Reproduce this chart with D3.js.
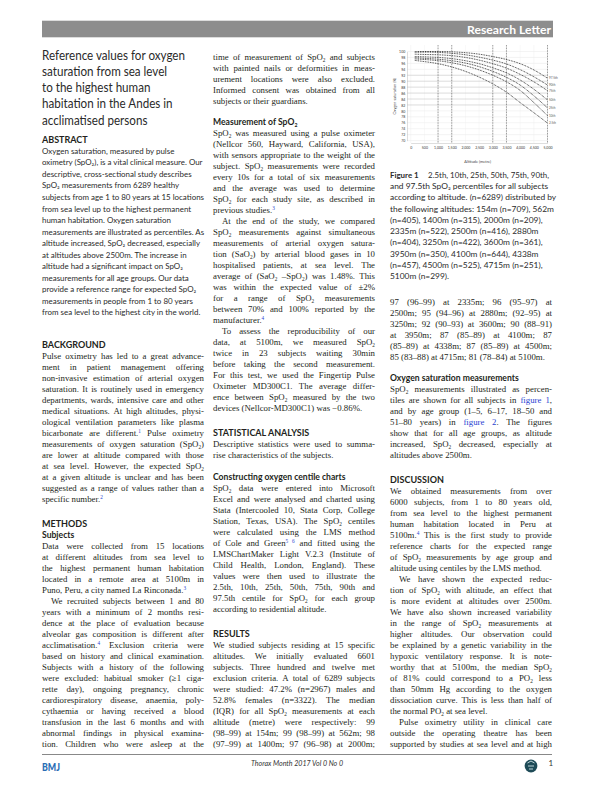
<!DOCTYPE html>
<html>
<head>
<meta charset="utf-8">
<script src="https://cdn.jsdelivr.net/npm/d3@7"></script>
<style>
  html, body { margin: 0; padding: 0; background: #fff; }
  svg { display: block; }
</style>
</head>
<body>
<svg id="page" width="595" height="794"></svg>
<script>
// ---------- chart data ----------
const altitudes = [150, 500, 1000, 1500, 2000, 2500, 3000, 3500, 4000, 4500, 5000];
const centileNames = ["97.5th", "90th", "75th", "50th", "25th", "10th", "2.5th"];
const p975 = [99.9, 100, 100, 99.9, 99.6, 99.1, 98.3, 97.3, 95.9, 93.8, 91.0];
const p90  = [99.8, 99.8, 99.7, 99.4, 98.9, 98.1, 97.1, 95.8, 93.9, 91.5, 88.7];
const p75  = [99.1, 99.0, 98.9, 98.6, 98.0, 97.1, 95.9, 94.4, 92.3, 89.8, 86.8];
const p50  = [98.3, 98.2, 98.0, 97.6, 96.9, 95.9, 94.5, 92.8, 90.4, 87.3, 83.7];
const p25  = [97.9, 97.7, 97.4, 96.9, 96.1, 94.9, 93.3, 91.3, 88.7, 85.1, 81.0];
const p10  = [97.5, 97.3, 96.9, 96.2, 95.2, 93.8, 92.0, 89.8, 86.9, 82.8, 78.4];
const p025 = [97.0, 96.6, 95.9, 94.8, 93.3, 91.4, 89.1, 86.3, 82.8, 79.4, 75.9];
const xTicks = [0, 500, 1000, 1500, 2000, 2500, 3000, 3500, 4000, 4500, 5000];
const yTicks = [70, 72, 74, 76, 78, 80, 82, 84, 86, 88, 90, 92, 94, 96, 98, 100];
const darkVerticals = [1000, 1500, 3000, 3500, 5000];
const shadedRows = [82, 84, 86, 88, 90, 92];

// ---------- page text ----------
const titleLines = [
  "Reference values for oxygen",
  "saturation from sea level",
  "to the highest human",
  "habitation in the Andes in",
  "acclimatised persons"
];

const abstractLines = [
  "Oxygen saturation, measured by pulse",
  "oximetry (SpO_{2}), is a vital clinical measure. Our",
  "descriptive, cross-sectional study describes",
  "SpO_{2} measurements from 6289 healthy",
  "subjects from age 1 to 80 years at 15 locations",
  "from sea level up to the highest permanent",
  "human habitation. Oxygen saturation",
  "measurements are illustrated as percentiles. As",
  "altitude increased, SpO_{2} decreased, especially",
  "at altitudes above 2500m. The increase in",
  "altitude had a significant impact on SpO_{2}",
  "measurements for all age groups. Our data",
  "provide a reference range for expected SpO_{2}",
  "measurements in people from 1 to 80 years",
  "from sea level to the highest city in the world."
];

const leftLines = [
  "# BACKGROUND",
  "Pulse oximetry has led to a great advance-",
  "ment in patient management offering",
  "non-invasive estimation of arterial oxygen",
  "saturation. It is routinely used in emergency",
  "departments, wards, intensive care and other",
  "medical situations. At high altitudes, physi-",
  "ological ventilation parameters like plasma",
  "bicarbonate are different.^{1} Pulse oximetry",
  "measurements of oxygen saturation (SpO_{2})",
  "are lower at altitude compared with those",
  "at sea level. However, the expected SpO_{2}",
  "at a given altitude is unclear and has been",
  "suggested as a range of values rather than a",
  "specific number.^{2}¶",
  "# METHODS",
  "## Subjects",
  "Data were collected from 15 locations",
  "at different altitudes from sea level to",
  "the highest permanent human habitation",
  "located in a remote area at 5100m in",
  "Puno, Peru, a city named La Rinconada.^{3}¶",
  "»We recruited subjects between 1 and 80",
  "years with a minimum of 2 months resi-",
  "dence at the place of evaluation because",
  "alveolar gas composition is different after",
  "acclimatisation.^{4} Exclusion criteria were",
  "based on history and clinical examination.",
  "Subjects with a history of the following",
  "were excluded: habitual smoker (≥1 ciga-",
  "rette day), ongoing pregnancy, chronic",
  "cardiorespiratory disease, anaemia, poly-",
  "cythaemia or having received a blood",
  "transfusion in the last 6 months and with",
  "abnormal findings in physical examina-",
  "tion. Children who were asleep at the"
];

const middleLines = [
  "time of measurement of SpO_{2} and subjects",
  "with painted nails or deformities in meas-",
  "urement locations were also excluded.",
  "Informed consent was obtained from all",
  "subjects or their guardians.¶",
  "## Measurement of SpO_{2}",
  "SpO_{2} was measured using a pulse oximeter",
  "(Nellcor 560, Hayward, California, USA),",
  "with sensors appropriate to the weight of the",
  "subject. SpO_{2} measurements were recorded",
  "every 10s for a total of six measurements",
  "and the average was used to determine",
  "SpO_{2} for each study site, as described in",
  "previous studies.^{3}¶",
  "»At the end of the study, we compared",
  "SpO_{2} measurements against simultaneous",
  "measurements of arterial oxygen satura-",
  "tion (SaO_{2}) by arterial blood gases in 10",
  "hospitalised patients, at sea level. The",
  "average of (SaO_{2} –SpO_{2}) was 1.48%. This",
  "was within the expected value of ±2%",
  "for a range of SpO_{2} measurements",
  "between 70% and 100% reported by the",
  "manufacturer.^{4}¶",
  "»To assess the reproducibility of our",
  "data, at 5100m, we measured SpO_{2}",
  "twice in 23 subjects waiting 30min",
  "before taking the second measurement.",
  "For this test, we used the Fingertip Pulse",
  "Oximeter MD300C1. The average differ-",
  "ence between SpO_{2} measured by the two",
  "devices (Nellcor-MD300C1) was −0.86%.¶",
  "# STATISTICAL ANALYSIS",
  "Descriptive statistics were used to summa-",
  "rise characteristics of the subjects.¶",
  "## Constructing oxygen centile charts",
  "SpO_{2} data were entered into Microsoft",
  "Excel and were analysed and charted using",
  "Stata (Intercooled 10, Stata Corp, College",
  "Station, Texas, USA). The SpO_{2} centiles",
  "were calculated using the LMS method",
  "of Cole and Green^{5 6} and fitted using the",
  "LMSChartMaker Light V.2.3 (Institute of",
  "Child Health, London, England). These",
  "values were then used to illustrate the",
  "2.5th, 10th, 25th, 50th, 75th, 90th and",
  "97.5th centile for SpO_{2} for each group",
  "according to residential altitude.¶",
  "# RESULTS",
  "We studied subjects residing at 15 specific",
  "altitudes. We initially evaluated 6601",
  "subjects. Three hundred and twelve met",
  "exclusion criteria. A total of 6289 subjects",
  "were studied: 47.2% (n=2967) males and",
  "52.8% females (n=3322). The median",
  "(IQR) for all SpO_{2} measurements at each",
  "altitude (metre) were respectively: 99",
  "(98–99) at 154m; 99 (98–99) at 562m; 98",
  "(97–99) at 1400m; 97 (96–98) at 2000m;"
];

const captionLines = [
  "*{Figure 1}\t2.5th, 10th, 25th, 50th, 75th, 90th,",
  "and 97.5th SpO_{2} percentiles for all subjects",
  "according to altitude. (n=6289) distributed by",
  "the following altitudes: 154m (n=709), 562m",
  "(n=405), 1400m (n=315), 2000m (n=209),",
  "2335m (n=522), 2500m (n=416), 2880m",
  "(n=404), 3250m (n=422), 3600m (n=361),",
  "3950m (n=350), 4100m (n=644), 4338m",
  "(n=457), 4500m (n=525), 4715m (n=251),",
  "5100m (n=299)."
];

const rightLines = [
  "97 (96–99) at 2335m; 96 (95–97) at",
  "2500m; 95 (94–96) at 2880m; (92–95) at",
  "3250m; 92 (90–93) at 3600m; 90 (88–91)",
  "at 3950m; 87 (85–89) at 4100m; 87",
  "(85–89) at 4338m; 87 (85–89) at 4500m;",
  "85 (83–88) at 4715m; 81 (78–84) at 5100m.¶",
  "## Oxygen saturation measurements",
  "SpO_{2} measurements illustrated as percen-",
  "tiles are shown for all subjects in [[figure 1]],",
  "and by age group (1–5, 6–17, 18–50 and",
  "51–80 years) in [[figure 2]]. The figures",
  "show that for all age groups, as altitude",
  "increased, SpO_{2} decreased, especially at",
  "altitudes above 2500m.¶",
  "# DISCUSSION",
  "We obtained measurements from over",
  "6000 subjects, from 1 to 80 years old,",
  "from sea level to the highest permanent",
  "human habitation located in Peru at",
  "5100m.^{4} This is the first study to provide",
  "reference charts for the expected range",
  "of SpO_{2} measurements by age group and",
  "altitude using centiles by the LMS method.¶",
  "»We have shown the expected reduc-",
  "tion of SpO_{2} with altitude, an effect that",
  "is more evident at altitudes over 2500m.",
  "We have also shown increased variability",
  "in the range of SpO_{2} measurements at",
  "higher altitudes. Our observation could",
  "be explained by a genetic variability in the",
  "hypoxic ventilatory response. It is note-",
  "worthy that at 5100m, the median SpO_{2}",
  "of 81% could correspond to a PO_{2} less",
  "than 50mm Hg according to the oxygen",
  "dissociation curve. This is less than half of",
  "the normal PO_{2} at sea level.¶",
  "»Pulse oximetry utility in clinical care",
  "outside the operating theatre has been",
  "supported by studies at sea level and at high"
];

// ---------- drawing helpers ----------
const ink = "#231f20";
const linkBlue = "#1f3fd2";
const sansFont = "Lato, 'Open Sans', sans-serif";
const serifFont = "'Liberation Serif', 'Times New Roman', serif";

const svg = d3.select("#page");
svg.append("rect").attr("width", 595).attr("height", 794).attr("fill", "#fff");

// little markup: _{sub} ^{blue sup} [[blue link]] *{bold} and \t for a wide gap
function richText(sel, str, size) {
  const parts = str.split(/(_\{[^}]*\}|\^\{[^}]*\}|\[\[[^\]]*\]\]|\*\{[^}]*\})/).filter(s => s !== "");
  let plain = "";
  parts.forEach(p => {
    let txt = p, kind = null;
    if (p.startsWith("_{")) { txt = p.slice(2, -1); kind = "sub"; }
    else if (p.startsWith("^{")) { txt = p.slice(2, -1); kind = "sup"; }
    else if (p.startsWith("[[")) { txt = p.slice(2, -2); kind = "link"; }
    else if (p.startsWith("*{")) { txt = p.slice(2, -1); kind = "bold"; }
    let dx = 0;
    if (txt.startsWith("\t")) { txt = txt.slice(1); dx = size * 1.2; }
    const ts = sel.append("tspan").text(txt);
    if (dx) ts.attr("dx", dx);
    if (kind === "sub") ts.attr("font-size", size * 0.6).attr("baseline-shift", -size * 0.18);
    if (kind === "sup") ts.attr("font-size", size * 0.6).attr("baseline-shift", size * 0.34);
    if (kind === "sup" || kind === "link") ts.attr("fill", linkBlue);
    if (kind === "bold") ts.attr("font-weight", 700);
    plain += txt;
  });
  return plain;
}

function textLine(x, y, str, o) {
  const t = svg.append("text")
    .attr("x", x).attr("y", y)
    .attr("font-family", o.font)
    .attr("font-size", o.size)
    .attr("font-weight", o.weight || 400)
    .attr("font-style", o.italic ? "italic" : null)
    .attr("fill", o.fill || ink);
  // sans blocks use the subscript-two character instead of a shifted tspan
  const src = o.uniSub ? str.replace(/_\{2\}/g, "\u2082") : str;
  const plain = richText(t, src, o.size);
  return { t, plain, w: t.node().getComputedTextLength() };
}

function fit(t, width) {
  t.attr("textLength", width).attr("lengthAdjust", "spacingAndGlyphs");
}

function raggedGroup(lines, x, y0, step, o, refIndex, refWidth) {
  const recs = lines.map((s, i) => textLine(x, y0 + i * step, s, o));
  const k = refWidth / recs[refIndex].w;
  recs.forEach(r => fit(r.t, r.w * k));
  return k;
}

function layoutColumn(lines, x0, y0, width) {
  let y = y0, prev = null;
  return lines.map((raw, i) => {
    let kind = "body", s = raw;
    if (s.startsWith("## ")) { kind = "sub"; s = s.slice(3); }
    else if (s.startsWith("# ")) { kind = "sec"; s = s.slice(2); }
    if (i > 0) y += kind === "sec" ? 25 : kind === "sub" ? (prev === "sec" ? 11 : 21.5) : 11;
    let indent = 0, last = false;
    if (s.startsWith("»")) { indent = 9; s = s.slice(1); }
    if (s.endsWith("¶")) { last = true; s = s.slice(0, -1); }
    prev = kind;
    return { kind, s, x: x0 + indent, y, width: width - indent, last };
  });
}

// ---------- header bar ----------
svg.append("rect").attr("x", 42).attr("y", 20.7).attr("width", 511).attr("height", 16.6).attr("fill", "#8d8d8d");
const rl = textLine(551, 33.6, "Research Letter", { font: sansFont, size: 10.5, weight: 700, fill: "#fff" });
rl.t.attr("text-anchor", "end");
fit(rl.t, 84);

// ---------- title and abstract ----------
raggedGroup(titleLines, 42, 59.5, 16.3, { font: sansFont, size: 14.2, fill: "#2a2a2a" }, 0, 143);
textLine(42, 143.2, "ABSTRACT", { font: sansFont, size: 9, weight: 700 });
const kSans = raggedGroup(abstractLines, 42, 153.8, 11.54,
  { font: sansFont, size: 8.1, fill: "#2b2b2b", uniSub: true }, 4, 162);

// ---------- body columns ----------
const columns = [
  layoutColumn(leftLines, 42, 348.2, 162),
  layoutColumn(middleLines, 213, 59.5, 162),
  layoutColumn(rightLines, 390, 304.8, 162)
];
const bodyRecs = [];
columns.forEach(col => col.forEach(L => {
  if (L.kind === "body") {
    const r = textLine(L.x, L.y, L.s, { font: serifFont, size: 8.8 });
    r.L = L;
    bodyRecs.push(r);
  } else {
    const r = textLine(L.x, L.y, L.s, { font: sansFont, size: L.kind === "sec" ? 9 : 8.6, weight: 700 });
    fit(r.t, r.w * Math.min(1, kSans + 0.04));
  }
}));
const ratios = bodyRecs.filter(r => !r.L.last).map(r => r.L.width / r.w);
const kBody = Math.min(1, d3.median(ratios));
bodyRecs.forEach(r => {
  if (r.L.last) {
    if (kBody < 1) fit(r.t, r.w * kBody);
  } else if (r.w > r.L.width) {
    fit(r.t, r.L.width);
  } else {
    const n = (r.plain.match(/ /g) || []).length;
    if (n) r.t.style("word-spacing", ((r.L.width - r.w) / n) + "px");
    else fit(r.t, r.L.width);
  }
});

// ---------- figure caption ----------
raggedGroup(captionLines, 390, 177.6, 11.3,
  { font: sansFont, size: 8.1, fill: "#2b2b2b", uniSub: true }, 0, 159);

// ---------- chart ----------
const x = d3.scaleLinear().domain([0, 5000]).range([410.7, 547.5]);
const y = d3.scaleLinear().domain([70, 100]).range([140.6, 51.5]);
const plot = { left: 407, right: 548, top: 45, bottom: 143 };
const chart = svg.append("g").attr("class", "chart");

chart.append("g").selectAll("line").data(xTicks).join("line")
  .attr("x1", d => x(d)).attr("x2", d => x(d))
  .attr("y1", plot.top).attr("y2", plot.bottom)
  .attr("stroke", "#f0f0f0").attr("stroke-width", 0.5);

chart.append("g").selectAll("line").data(yTicks).join("line")
  .attr("x1", plot.left).attr("x2", plot.right)
  .attr("y1", d => y(d)).attr("y2", d => y(d))
  .attr("stroke", d => shadedRows.includes(d) ? "#c6c6c6" : "#ededed")
  .attr("stroke-width", 0.6);

chart.append("g").selectAll("line").data(darkVerticals).join("line")
  .attr("x1", d => x(d)).attr("x2", d => x(d))
  .attr("y1", plot.top).attr("y2", plot.bottom)
  .attr("stroke", "#3a3a3a").attr("stroke-width", 0.6)
  .attr("stroke-dasharray", "0.8 0.8");

chart.append("g")
  .attr("transform", `translate(${plot.left},0)`)
  .call(d3.axisLeft(y).tickValues(yTicks).tickSize(0).tickPadding(1.8))
  .attr("font-family", sansFont).attr("font-size", 3.5)
  .call(g => g.select(".domain").attr("stroke", "#bdbdbd").attr("stroke-width", 0.5))
  .call(g => g.selectAll("text").attr("fill", "#333"));

chart.append("g")
  .attr("transform", `translate(0,${plot.bottom})`)
  .call(d3.axisBottom(x).tickValues(xTicks).tickSize(0).tickPadding(3.6))
  .attr("font-family", sansFont).attr("font-size", 3.5)
  .call(g => g.select(".domain").attr("stroke", "#bdbdbd").attr("stroke-width", 0.5))
  .call(g => g.selectAll("text").attr("fill", "#333"));

const centiles = [p975, p90, p75, p50, p25, p10, p025];
const curve = d3.line()
  .x((d, i) => x(altitudes[i]))
  .y(d => y(d))
  .curve(d3.curveMonotoneX);

chart.append("g").selectAll("path").data(centiles).join("path")
  .attr("d", curve)
  .attr("fill", "none")
  .attr("stroke", "#111")
  .attr("stroke-width", 0.85)
  .attr("stroke-dasharray", "0.85 0.85");

chart.append("g").selectAll("text").data(centiles).join("text")
  .attr("x", x(altitudes[altitudes.length - 1]) + 1.6)
  .attr("y", d => y(d[d.length - 1]) + 1)
  .attr("font-family", sansFont).attr("font-size", 3)
  .attr("fill", "#555")
  .text((d, i) => centileNames[i]);

chart.append("text")
  .attr("transform", `translate(395.5,${y(85)}) rotate(-90)`)
  .attr("text-anchor", "middle")
  .attr("font-family", sansFont).attr("font-size", 3.8).attr("fill", "#444")
  .text("Oxygen saturation (%)");

chart.append("text")
  .attr("x", x(2450)).attr("y", 163)
  .attr("text-anchor", "middle")
  .attr("font-family", sansFont).attr("font-size", 3.9).attr("fill", "#444")
  .text("Altitude (metre)");

// ---------- footer ----------
svg.append("line").attr("x1", 42).attr("x2", 552).attr("y1", 754.5).attr("y2", 754.5)
  .attr("stroke", "#555").attr("stroke-width", 0.7);
const bmj = textLine(42, 771, "BMJ", { font: sansFont, size: 11, weight: 900, fill: "#2a6db5" });
fit(bmj.t, 18);
const foot = textLine(297, 766, "Thorax Month 2017 Vol 0 No 0", { font: sansFont, size: 7, italic: true, fill: "#333" });
foot.t.attr("text-anchor", "middle");
fit(foot.t, 92);
svg.append("circle").attr("cx", 531).attr("cy", 766).attr("r", 6.4).attr("fill", "#1e4b57");
svg.append("path").attr("d", "M527.5,763 L531,761 L534.5,763 M528,766 L534,766 M529,769 L533,769")
  .attr("stroke", "#cfe3e6").attr("stroke-width", 0.9).attr("fill", "none");
textLine(548.5, 766, "1", { font: sansFont, size: 8, fill: "#333" });
</script>
</body>
</html>
